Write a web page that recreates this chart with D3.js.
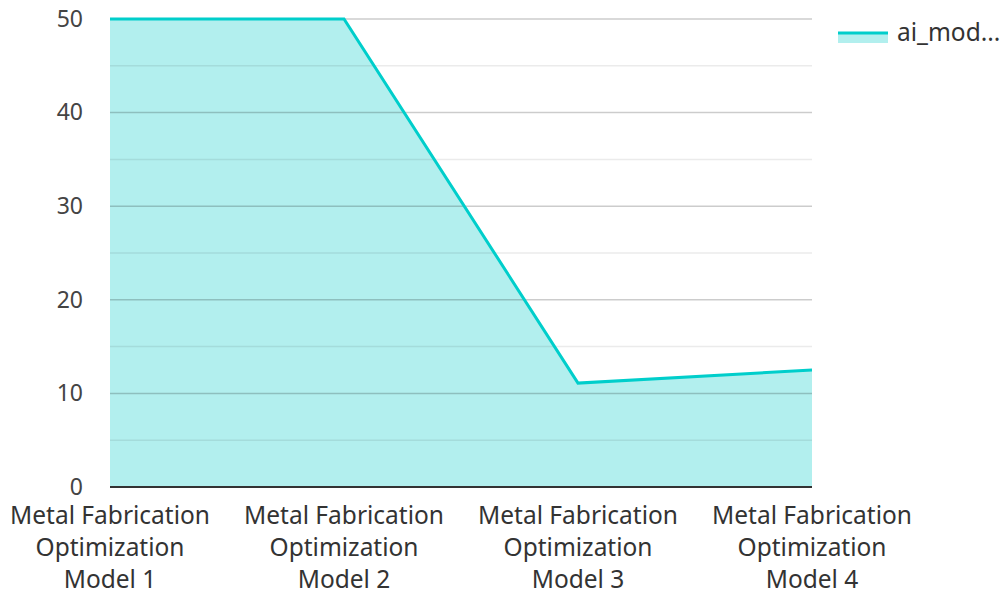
<!DOCTYPE html>
<html>
<head>
<meta charset="utf-8">
<script src="https://cdn.jsdelivr.net/npm/d3@7"></script>
<style>
  html, body { margin: 0; padding: 0; background: #fff; }
  svg { display: block; font-family: "Noto Sans", "Open Sans", sans-serif; }
</style>
</head>
<body>
<svg id="chart" width="1002" height="592"></svg>
<script>
// Series data
const categories = [
  "Metal Fabrication Optimization Model 1",
  "Metal Fabrication Optimization Model 2",
  "Metal Fabrication Optimization Model 3",
  "Metal Fabrication Optimization Model 4"
];
const values = [50, 50, 11.1, 12.5];
const seriesName = "ai_mod...";
const yTicks = [0, 10, 20, 30, 40, 50];
const yMinorTicks = [5, 15, 25, 35, 45];

const lineColor = "#00cecb";
const fillColor = "#b2efee";
const fontFamily = "'Noto Sans', 'Open Sans', sans-serif";

const margin = { left: 110, right: 190, top: 19, bottom: 105 };
const width = 1002, height = 592;

const svg = d3.select("#chart");

const x = d3.scalePoint()
  .domain(categories)
  .range([margin.left, width - margin.right]);

const y = d3.scaleLinear()
  .domain([0, 50])
  .range([height - margin.bottom, margin.top]);

// Area fill under the line
const area = d3.area()
  .x((d, i) => x(categories[i]))
  .y0(y(0))
  .y1(d => y(d));

svg.append("path")
  .datum(values)
  .attr("d", area)
  .attr("fill", fillColor);

// Grid lines (minor first, then major)
svg.append("g")
  .selectAll("line")
  .data(yMinorTicks)
  .join("line")
  .attr("x1", margin.left).attr("x2", width - margin.right)
  .attr("y1", d => y(d)).attr("y2", d => y(d))
  .attr("stroke", "rgba(0,0,0,0.08)")
  .attr("stroke-width", 1.5);

svg.append("g")
  .selectAll("line")
  .data(yTicks.filter(d => d !== 0))
  .join("line")
  .attr("x1", margin.left).attr("x2", width - margin.right)
  .attr("y1", d => y(d)).attr("y2", d => y(d))
  .attr("stroke", "rgba(0,0,0,0.2)")
  .attr("stroke-width", 1.5);

// Line
const line = d3.line()
  .x((d, i) => x(categories[i]))
  .y(d => y(d));

svg.append("path")
  .datum(values)
  .attr("d", line)
  .attr("fill", "none")
  .attr("stroke", lineColor)
  .attr("stroke-width", 3)
  .attr("stroke-linejoin", "miter");

// Bottom axis line
svg.append("line")
  .attr("x1", margin.left).attr("x2", width - margin.right)
  .attr("y1", y(0)).attr("y2", y(0))
  .attr("stroke", "#333")
  .attr("stroke-width", 2);

// Y axis labels
const yAxis = d3.axisLeft(y).tickValues(yTicks).tickSize(0).tickPadding(27);
const gy = svg.append("g")
  .attr("transform", `translate(${margin.left},0)`)
  .call(yAxis);
gy.select(".domain").remove();
gy.selectAll("text")
  .attr("font-size", 23)
  .attr("fill", "#444")
  .attr("font-family", fontFamily);

// X axis labels, wrapped into three lines
const xLabels = svg.append("g")
  .selectAll("text")
  .data(categories)
  .join("text")
  .attr("text-anchor", "middle")
  .attr("font-size", 24.5)
  .attr("fill", "#333")
  .attr("transform", d => `translate(${x(d)},${y(0) + 37})`);

xLabels.each(function(d) {
  const words = d.split(" ");
  const parts = [
    words.slice(0, 2).join(" "),
    words.slice(2, 3).join(" "),
    words.slice(3).join(" ")
  ];
  d3.select(this).selectAll("tspan")
    .data(parts)
    .join("tspan")
    .attr("x", 0)
    .attr("y", (p, i) => i * 32)
    .text(p => p);
});

// Legend
const legend = svg.append("g").attr("transform", "translate(838,33)");
legend.append("rect")
  .attr("x", 0).attr("y", 0).attr("width", 50).attr("height", 10)
  .attr("fill", fillColor);
legend.append("line")
  .attr("x1", 0).attr("x2", 50).attr("y1", 0).attr("y2", 0)
  .attr("stroke", lineColor).attr("stroke-width", 3);
legend.append("text")
  .attr("x", 59).attr("y", 8)
  .attr("font-size", 24.5)
  .attr("fill", "#333")
  .text(seriesName);
</script>
</body>
</html>
